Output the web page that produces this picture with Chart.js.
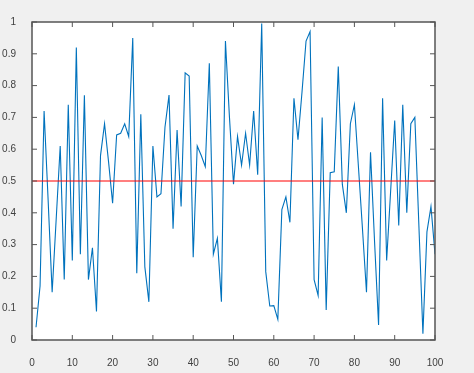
<!DOCTYPE html>
<html>
<head>
<meta charset="utf-8">
<script src="https://cdn.jsdelivr.net/npm/chart.js@4"></script>
<style>
  body { margin: 0; background: #f0f0f0; }
  canvas { display: block; }
</style>
</head>
<body>
<canvas id="plot" width="474" height="373"></canvas>
<script>
// random samples, x = 1..100
const sampleY = [
  0.04, 0.17, 0.72, 0.44, 0.15, 0.38, 0.61, 0.19, 0.74, 0.25,
  0.92, 0.27, 0.77, 0.19, 0.29, 0.09, 0.58, 0.68, 0.56, 0.43,
  0.645, 0.65, 0.68, 0.64, 0.95, 0.21, 0.71, 0.23, 0.12, 0.61,
  0.45, 0.46, 0.67, 0.77, 0.35, 0.66, 0.42, 0.84, 0.83, 0.26,
  0.61, 0.58, 0.545, 0.87, 0.27, 0.32, 0.12, 0.94, 0.70, 0.49,
  0.64, 0.55, 0.65, 0.55, 0.72, 0.52, 0.995, 0.215, 0.107, 0.108,
  0.065, 0.41, 0.45, 0.37, 0.76, 0.63, 0.78, 0.94, 0.97, 0.19,
  0.14, 0.70, 0.094, 0.526, 0.529, 0.86, 0.49, 0.40, 0.68, 0.74,
  0.545, 0.35, 0.15, 0.59, 0.31, 0.047, 0.76, 0.25, 0.47, 0.69,
  0.36, 0.74, 0.40, 0.68, 0.70, 0.36, 0.02, 0.34, 0.42, 0.27
];
const sampleX = sampleY.map((v, i) => i + 1);

// threshold line
const limitX = [0, 100];
const limitY = [0.5, 0.5];

const xTicks = [0, 10, 20, 30, 40, 50, 60, 70, 80, 90, 100];
const yTicks = [0, 0.1, 0.2, 0.3, 0.4, 0.5, 0.6, 0.7, 0.8, 0.9, 1];

const axisColor = '#555555';
const textColor = '#404040';

// white axes area, box and inward ticks like the matlab figure
const axesBox = {
    id: 'axesBox',
    beforeDatasetsDraw(chart) {
        const a = chart.chartArea, c = chart.ctx;
        c.save();
        c.fillStyle = '#ffffff';
        c.fillRect(a.left, a.top, a.right - a.left, a.bottom - a.top);
        c.restore();
    },
    afterDatasetsDraw(chart) {
        const a = chart.chartArea, c = chart.ctx;
        const xs = chart.scales.x, ys = chart.scales.y;
        c.save();
        c.strokeStyle = axisColor;
        c.lineWidth = 1.5;
        c.strokeRect(a.left, a.top, a.right - a.left, a.bottom - a.top);
        c.lineWidth = 1;
        xTicks.forEach(v => {
            const px = xs.getPixelForValue(v);
            c.beginPath();
            c.moveTo(px, a.bottom); c.lineTo(px, a.bottom - 5);
            c.moveTo(px, a.top); c.lineTo(px, a.top + 5);
            c.stroke();
        });
        yTicks.forEach(v => {
            const py = ys.getPixelForValue(v);
            c.beginPath();
            c.moveTo(a.left, py); c.lineTo(a.left + 5, py);
            c.moveTo(a.right, py); c.lineTo(a.right - 5, py);
            c.stroke();
        });
        c.restore();
    }
};

const ctx = document.getElementById('plot').getContext('2d');

new Chart(ctx, {
    type: 'line',
    data: {
        datasets: [{
            data: limitX.map((x, i) => ({ x: x, y: limitY[i] })),
            borderColor: '#ff0000',
            borderWidth: 1.2,
            pointRadius: 0,
            order: 0
        }, {
            data: sampleX.map((x, i) => ({ x: x, y: sampleY[i] })),
            borderColor: '#0072bd',
            borderWidth: 1.1,
            pointRadius: 0,
            tension: 0,
            order: 1
        }]
    },
    options: {
        responsive: false,
        animation: false,
        layout: { padding: { left: 0, top: 22, right: 39, bottom: 0 } },
        plugins: { legend: { display: false }, tooltip: { enabled: false } },
        scales: {
            x: {
                type: 'linear',
                min: 0, max: 100,
                afterBuildTicks: s => { s.ticks = xTicks.map(v => ({ value: v })); },
                afterFit: s => { s.height = 33; },
                grid: { display: false },
                border: { display: false },
                ticks: {
                    padding: 9,
                    color: textColor,
                    font: { family: 'Liberation Sans, Arial, sans-serif', size: 10 }
                }
            },
            y: {
                type: 'linear',
                min: 0, max: 1,
                afterBuildTicks: s => { s.ticks = yTicks.map(v => ({ value: v })); },
                afterFit: s => { s.width = 32; },
                grid: { display: false },
                border: { display: false },
                ticks: {
                    padding: 8,
                    color: textColor,
                    font: { family: 'Liberation Sans, Arial, sans-serif', size: 10 },
                    callback: v => String(Math.round(v * 10) / 10)
                }
            }
        }
    },
    plugins: [axesBox]
});
</script>
</body>
</html>
